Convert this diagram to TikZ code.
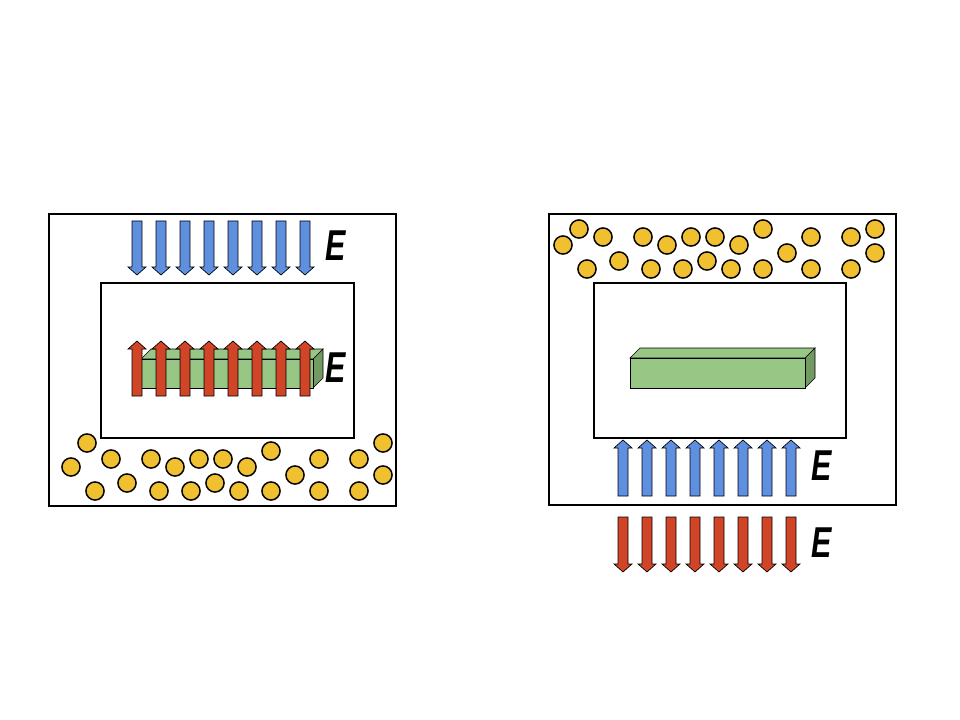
\documentclass[tikz,border=0pt]{standalone}
\usepackage{fontspec}
\setsansfont{Liberation Sans}
\definecolor{fieldblue}{HTML}{5F90E0}
\definecolor{fieldred}{HTML}{D04428}
\definecolor{barfront}{HTML}{98C785}
\definecolor{barside}{HTML}{739A62}
\definecolor{ion}{HTML}{F0C030}
\tikzset{
  box/.style={draw, line width=1.2pt},
  ion dot/.style={draw, line width=1.1pt, fill=ion},
  field/.style={draw, line width=0.5pt},
  elabel/.style={font=\sffamily\bfseries\itshape\fontsize{24}{24}\selectfont, yscale=1.35, xscale=0.95, line width=0.6pt, draw=none}
}
% arrow from (#2,#3) to (#2,#4), tip at #4
\newcommand\fieldarrow[5][]{%
  \pgfmathsetmacro\hd{#4>#3 ? -8 : 8}%
  \path[field,fill=#5] (#2-5,#3) -- (#2+5,#3) -- (#2+5,#4+\hd) -- (#2+9,#4+\hd) -- (#2,#4) -- (#2-9,#4+\hd) -- (#2-5,#4+\hd) -- cycle;}
\begin{document}
\begin{tikzpicture}[x=0.75pt,y=-0.75pt]
\useasboundingbox (0,0) rectangle (960,720);
% left panel
\draw[box] (49,214) rectangle (396,506);
\draw[box] (101,283) rectangle (354,438);
\foreach \x in {137,161,...,305} \fieldarrow{\x}{221}{275}{fieldblue};
\path[draw, fill=barside] (313,359) -- (323,349) -- (323,378) -- (313,388) -- cycle;
\path[draw, fill=barfront] (141,359) -- (151,349) -- (323,349) -- (313,359) -- cycle;
\path[draw, fill=barfront] (141,359) rectangle (313,388);
\foreach \x in {137,161,...,305} \fieldarrow{\x}{396}{341}{fieldred};
\node[elabel] (eA) at (336,246) {E};
\node[elabel] (eB) at (336,368) {E};
\foreach \x/\y in {87/443,71/467,111/459,95/491,127/483,151/459,175/467,159/491,199/459,191/491,223/459,215/483,247/467,239/491,271/451,271/491,295/475,319/459,319/491,359/459,383/443,383/475,359/491}
  \draw[ion dot] (\x,\y) circle (6.8pt);
% right panel
\draw[box] (549,214) rectangle (896,505);
\draw[box] (594,283) rectangle (846,438);
\path[draw, fill=barside] (805,358) -- (815,348) -- (815,378) -- (805,388) -- cycle;
\path[draw, fill=barfront] (630,358) -- (640,348) -- (815,348) -- (805,358) -- cycle;
\path[draw, fill=barfront] (630,358) rectangle (805,388);
\foreach \x in {623,647,...,791} \fieldarrow{\x}{496}{440}{fieldblue};
\foreach \x in {623,647,...,791} \fieldarrow{\x}{517}{572}{fieldred};
\node[elabel] (eC) at (822,466) {E};
\node[elabel] (eD) at (822,543) {E};
\foreach \x/\y in {579/229,563/245,603/237,587/269,619/261,643/237,667/245,651/269,691/237,683/269,715/237,707/261,739/245,731/269,763/229,763/269,787/253,811/237,811/269,851/237,875/229,875/253,851/269}
  \draw[ion dot] (\x,\y) circle (6.8pt);
\end{tikzpicture}
\end{document}
